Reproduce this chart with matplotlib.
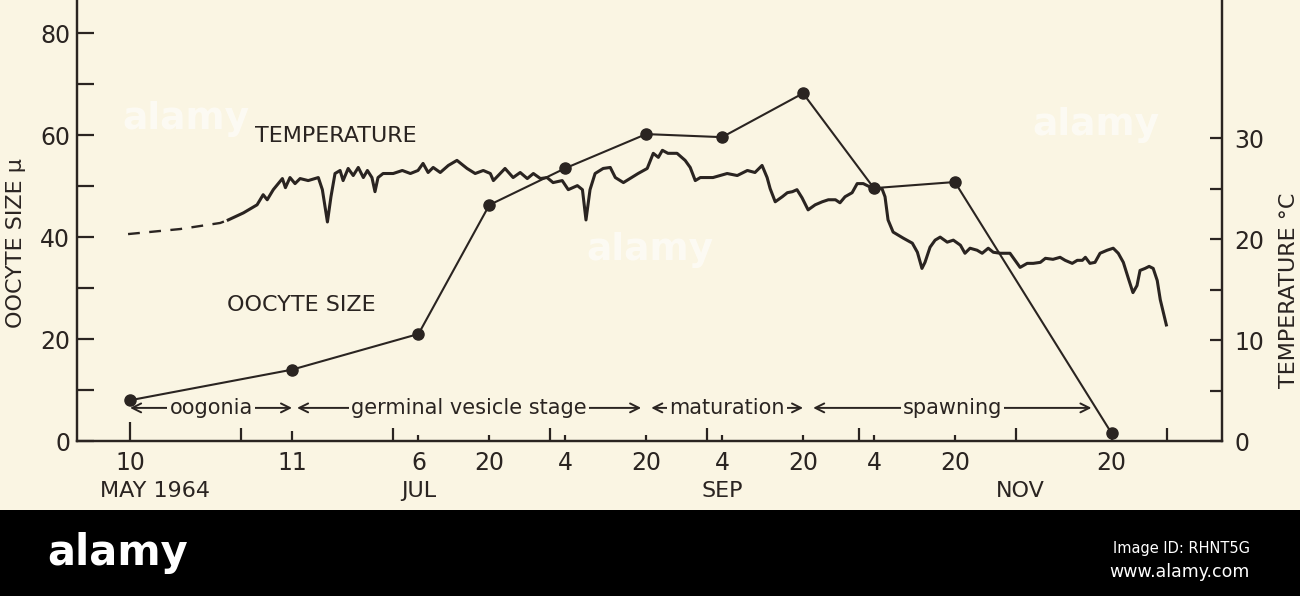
import numpy as np
import pandas as pd
import matplotlib
matplotlib.use("Agg")
import matplotlib.pyplot as plt
from matplotlib.patches import Rectangle
from matplotlib.transforms import blended_transform_factory

# oocyte size samples, 1964
oocyte_dates = ["1964-05-10", "1964-06-11", "1964-07-06", "1964-07-20", "1964-08-04",
                "1964-08-20", "1964-09-04", "1964-09-20", "1964-10-04", "1964-10-20",
                "1964-11-20"]
oocyte_size = [8.0, 14.0, 21.0, 46.3, 53.5, 60.2, 59.6, 68.2, 49.6, 50.8, 1.5]

# temperature, estimated part (dashed), x = day of year 1964
temp_est_day = [130.6, 140.9, 148.8, 150.4]
temp_est_c = [20.5, 21.0, 21.6, 21.9]

# temperature record (solid), x = day of year 1964
temp_day = [150.4, 153.4, 156.1, 157.3, 158.1, 159.3, 161.1, 161.7, 162.6, 163.6,
            164.6, 166.2, 168.2, 169.0, 170.0, 170.7, 171.5, 172.5, 173.1, 174.1,
            175.1, 176.1, 177.1, 177.9, 178.8, 179.4, 180.0, 181.0, 183.0, 184.8,
            186.4, 187.9, 188.9, 189.9, 190.9, 192.3, 193.9, 195.6, 197.6, 199.2,
            200.8, 202.2, 202.8, 205.1, 206.7, 208.1, 209.5, 210.7, 212.1, 213.4,
            214.6, 216.4, 217.6, 219.4, 220.4, 221.1, 221.9, 222.9, 224.5, 225.9,
            226.9, 228.5, 229.8, 231.4, 233.2, 234.4, 235.4, 236.2, 237.3, 239.1,
            240.7, 241.7, 242.7, 243.7, 246.2, 249.0, 251.0, 253.0, 254.5, 255.9,
            256.9, 257.5, 258.5, 259.9, 260.9, 261.9, 262.8, 263.8, 265.0, 266.4,
            267.8, 269.0, 270.4, 271.3, 272.3, 273.7, 274.7, 275.9, 277.9, 279.6,
            280.2, 280.8, 281.8, 283.8, 285.6, 286.6, 287.5, 288.1, 289.1, 290.1,
            291.1, 292.5, 293.7, 295.1, 296.0, 297.0, 298.4, 299.4, 300.6, 301.6,
            303.0, 304.9, 306.9, 308.3, 309.5, 310.9, 311.9, 313.4, 314.8, 315.8,
            317.2, 318.2, 319.2, 319.8, 320.7, 321.7, 322.7, 324.1, 325.3, 326.3,
            327.3, 328.3, 329.2, 330.0, 330.6, 331.6, 332.4, 333.2, 334.0, 334.6,
            335.8]
temp_c = [21.9, 22.6, 23.4, 24.4, 23.9, 24.9, 26.0, 25.1, 26.1, 25.5,
          26.0, 25.8, 26.1, 24.9, 21.7, 24.2, 26.5, 26.8, 25.8, 27.0,
          26.3, 27.1, 26.1, 26.8, 26.1, 24.7, 26.1, 26.5, 26.5, 26.8,
          26.5, 26.8, 27.5, 26.6, 27.1, 26.6, 27.3, 27.8, 27.0, 26.5,
          26.8, 26.5, 25.8, 27.0, 26.1, 26.6, 26.0, 26.5, 26.0, 26.1,
          25.6, 25.8, 24.9, 25.3, 24.9, 21.9, 24.9, 26.5, 27.0, 27.1,
          26.1, 25.6, 26.0, 26.5, 27.0, 28.5, 28.1, 28.8, 28.5, 28.5,
          27.8, 27.1, 25.8, 26.1, 26.1, 26.5, 26.3, 26.8, 26.6, 27.3,
          26.1, 25.0, 23.7, 24.2, 24.6, 24.7, 24.9, 24.1, 22.9, 23.4,
          23.7, 23.9, 23.9, 23.6, 24.2, 24.6, 25.5, 25.5, 25.0, 25.0,
          24.2, 21.9, 20.7, 20.1, 19.6, 18.7, 17.1, 17.7, 19.2, 19.9,
          20.2, 19.7, 19.9, 19.4, 18.6, 19.1, 18.9, 18.6, 19.1, 18.7,
          18.6, 18.6, 17.2, 17.6, 17.6, 17.7, 18.1, 18.0, 18.2, 17.9,
          17.6, 17.9, 17.9, 18.2, 17.6, 17.7, 18.6, 18.9, 19.1, 18.6,
          17.7, 16.1, 14.7, 15.4, 16.9, 17.1, 17.3, 17.1, 15.9, 14.0,
          11.5]

# stages
stage_names = ["oogonia", "germinal vesicle stage", "maturation", "spawning"]
stage_start = ["1964-05-10", "1964-06-12", "1964-08-21", "1964-09-22"]
stage_end = ["1964-06-11", "1964-08-19", "1964-09-20", "1964-11-16"]

# x axis ticks
tick_dates = oocyte_dates
tick_labels = ["10", "11", "6", "20", "4", "20", "4", "20", "4", "20", "20"]
month_starts = ["1964-06-01", "1964-07-01", "1964-08-01", "1964-09-01",
                "1964-10-01", "1964-11-01", "1964-12-01"]
month_names = ["MAY 1964", "JUL", "SEP", "NOV"]
month_label_dates = ["1964-05-15", "1964-07-06", "1964-09-04", "1964-11-02"]


def doy(dates):
    return np.array(pd.to_datetime(dates).dayofyear, dtype=float)


bg = "#faf5e3"
ink = "#2a2421"
plt.rcParams["font.family"] = ["DejaVu Sans"]

fig = plt.figure(figsize=(13, 5.96), dpi=100, facecolor=bg)
ax = fig.add_axes([0.0592, 0.260, 0.8808, 0.740])
ax.set_facecolor(bg)
ax2 = ax.twinx()

# faint watermarks (behind the data)
for wx, wy in [(0.143, 0.80), (0.500, 0.58), (0.843, 0.79)]:
    fig.text(wx, wy, "alamy", fontsize=27, color="white", alpha=0.6,
             ha="center", va="center", fontweight="bold", zorder=0.5)

# temperature
ax2.plot(temp_est_day, temp_est_c, color=ink, lw=1.7, ls=(0, (5, 4)))
ax2.plot(temp_day, temp_c, color=ink, lw=2.2, solid_joinstyle="round")

# oocyte size
ax.plot(doy(oocyte_dates), oocyte_size, color=ink, lw=1.5, marker="o", ms=8, zorder=5)

ax.set_xlim(120.5, 346.8)
ax.set_ylim(0, 86.5)
ax2.set_ylim(0, 86.5 / 1.98)

for a in (ax, ax2):
    a.spines["top"].set_visible(False)
    for s in a.spines.values():
        s.set_color(ink)
        s.set_linewidth(1.6)

ax.set_yticks([0, 20, 40, 60, 80])
ax.set_yticks([10, 30, 50, 70], minor=True)
ax.tick_params(axis="y", which="both", direction="in", length=12.5, width=1.6,
               colors=ink, labelsize=17, pad=5)
ax2.set_yticks([0, 10, 20, 30])
ax2.set_yticks([5, 15, 25], minor=True)
ax2.tick_params(axis="y", which="both", direction="in", length=8.5, width=1.6,
                colors=ink, labelsize=17, pad=9)

ax.set_xticks(doy(tick_dates))
ax.set_xticklabels(tick_labels)
ax.set_xticks(doy(month_starts), minor=True)
ax.tick_params(axis="x", which="major", direction="in", length=4.5, width=1.6,
               colors=ink, labelsize=17, pad=7)
ax.tick_params(axis="x", which="minor", direction="in", length=9.5, width=1.6, colors=ink)
ax.xaxis.get_major_ticks()[0].tick1line.set_markersize(13.5)
ax.xaxis.get_major_ticks()[1].tick1line.set_markersize(7)

trans = blended_transform_factory(ax.transData, ax.transAxes)
for name, d in zip(month_names, doy(month_label_dates)):
    ax.text(d, -0.113, name, transform=trans, ha="center", va="center",
            fontsize=16, color=ink)

# stage arrows
for name, a, b in zip(stage_names, doy(stage_start), doy(stage_end)):
    ax.annotate("", xy=(b, 6.5), xytext=(a, 6.5),
                arrowprops=dict(arrowstyle="<->", color=ink, lw=1.4,
                                mutation_scale=16, shrinkA=0, shrinkB=0))
    ax.text((a + b) / 2, 6.5, name, ha="center", va="center", fontsize=15,
            color=ink, bbox=dict(facecolor=bg, edgecolor="none", pad=1.5))

ax.text(155.6, 59.8, "TEMPERATURE", ha="left", va="center", fontsize=16, color=ink)
ax.text(150.2, 26.7, "OOCYTE SIZE", ha="left", va="center", fontsize=16, color=ink)

fig.text(16 / 1300, 1 - 243 / 596, "OOCYTE SIZE \u03bc", fontsize=16, color=ink,
         rotation=90, ha="center", va="center")
fig.text(1289 / 1300, 1 - 290 / 596, "TEMPERATURE \u00b0C", fontsize=16, color=ink,
         rotation=90, ha="center", va="center")

# bottom banner
fig.add_artist(Rectangle((0, 0), 1, 86 / 596, transform=fig.transFigure,
                         facecolor="black", edgecolor="none"))
fig.text(47 / 1300, 1 - 553 / 596, "alamy", fontsize=30, color="white",
         fontweight="bold", ha="left", va="center")
fig.text(1250 / 1300, 1 - 548 / 596, "Image ID: RHNT5G", fontsize=10.5,
         color="white", ha="right", va="center")
fig.text(1250 / 1300, 1 - 572 / 596, "www.alamy.com", fontsize=12.5,
         color="white", ha="right", va="center")

fig.savefig("out.png", dpi=100, facecolor=bg)
